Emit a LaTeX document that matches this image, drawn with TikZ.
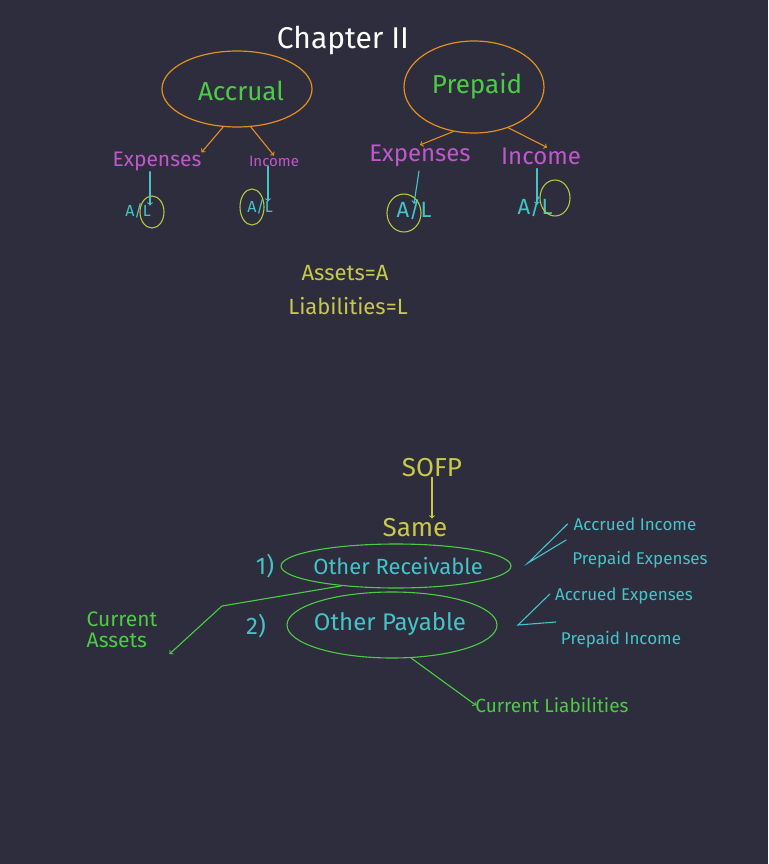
\documentclass[tikz,border=0pt]{standalone}
\usepackage{fontspec}
\setmainfont{Fira Sans}
\usetikzlibrary{shapes.geometric}
\definecolor{bg}{HTML}{2E2D3D}
\definecolor{org}{HTML}{E0901E}
\definecolor{grn}{HTML}{4CCC44}
\definecolor{mag}{HTML}{C058CC}
\definecolor{cyn}{HTML}{44C4C8}
\definecolor{ylw}{HTML}{C8C84A}
\definecolor{cir}{HTML}{B4C83C}
\tikzset{
  lbl/.style={inner sep=0pt,font=\fontsize{#1}{#1}\selectfont},
  arr/.style={->,line width=1.1pt,line cap=round},
  ring/.style={draw=cir,line width=1.1pt,ellipse,inner sep=0pt},
}
\begin{document}
\begin{tikzpicture}[x=1pt,y=-1pt]
\fill[bg] (0,0) rectangle (768,864);
\useasboundingbox (0,0) rectangle (768,864);
\node[lbl=30,white] (ch) at (343,40) {Chapter II};
% top ellipses
\node[draw=org,line width=1.2pt,ellipse,minimum width=150,minimum height=76] (acc) at (237,89) {};
\node[lbl=26,grn] at (241,91) {Accrual};
\node[draw=org,line width=1.2pt,ellipse,minimum width=140,minimum height=92] (pre) at (474,87) {};
\node[lbl=26,grn] at (477,86) {Prepaid};
\node[lbl=21,mag] (e1) at (157,162) {Expenses};
\node[lbl=15,mag] (i1) at (274,161) {Income};
\node[lbl=24,mag] (e2) at (420,156) {Expenses};
\node[lbl=24,mag] (i2) at (541,156) {Income};
\draw[arr,org] (acc.250) -- (e1.north east);
\draw[arr,org] (acc.290) -- (i1.north);
\draw[arr,org] (pre.245) -- (e2.north);
\draw[arr,org] (pre.310) -- ([xshift=6pt]i2.north);
% A/L
\node[lbl=16,cyn] (al1) at (138,211) {A/L};
\node[ring,minimum width=24,minimum height=32] at (152,212) {};
\node[lbl=16,cyn] (al2) at (260,207) {A/L};
\node[ring,minimum width=24,minimum height=36] at (252,207) {};
\node[lbl=22,cyn] (al3) at (414,210) {A/L};
\node[ring,minimum width=34,minimum height=38] at (404,213) {};
\node[lbl=22,cyn] (al4) at (535,207) {A/L};
\node[ring,minimum width=30,minimum height=36] at (555,198) {};
\draw[arr,cyn] ([xshift=-7pt]e1.south) -- ([xshift=12pt,yshift=-2pt]al1.north);
\draw[arr,cyn] ([xshift=-6pt]i1.south) -- ([xshift=8pt,yshift=-2pt]al2.north);
\draw[arr,cyn] ([xshift=-1pt,yshift=-4pt]e2.south) -- ([xshift=0pt,yshift=-4pt]al3.north);
\draw[arr,cyn] ([xshift=-4pt,yshift=-4pt]i2.south) -- ([xshift=2pt,yshift=-8pt]al4.north);
\node[lbl=22,ylw] (as) at (345,273) {Assets=A};
\node[lbl=22,ylw] (li) at (348,306) {Liabilities=L};
% SOFP
\node[lbl=26,ylw] (sofp) at (432,468) {SOFP};
\node[lbl=26,ylw] (same) at (415,528) {Same};
\draw[arr,ylw] (sofp.south) -- (same.north -| sofp.south);
\node[lbl=24,cyn] (n1) at (265,566) {1)};
\node[draw=grn,line width=1.1pt,ellipse,minimum width=230,minimum height=44] (rec) at (396,566) {};
\node[lbl=22,cyn] at (398,566) {Other Receivable};
\node[lbl=24,cyn] (n2) at (256,626) {2)};
\node[draw=grn,line width=1.1pt,ellipse,minimum width=210,minimum height=66] (pay) at (392,625) {};
\node[lbl=24,cyn] at (390,624) {Other Payable};
% brackets
\node[lbl=17,cyn] (ai) at (635,524) {Accrued Income};
\node[lbl=17,cyn] (pe) at (640,560) {Prepaid Expenses};
\draw[cyn,line width=1.1pt,line cap=round] ([xshift=-6pt]ai.west) -- (528,563) -- ([xshift=-6pt,yshift=20pt]pe.west);
\node[lbl=17,cyn] (ae) at (624,596) {Accrued Expenses};
\node[lbl=17,cyn] (pi) at (621,640) {Prepaid Income};
\draw[cyn,line width=1.1pt,line cap=round] ([xshift=-5pt,yshift=2pt]ae.west) -- (518,625) -- ([xshift=-5pt,yshift=18pt]pi.west);
% current
\node[lbl=21,grn,align=left] (ca) at (122,630) {Current\\Assets};
\draw[arr,grn] (rec.200) -- (222,606) -- ([xshift=12pt,yshift=-24pt]ca.east);
\node[lbl=19,grn] (cl) at (552,705) {Current Liabilities};
\draw[arr,grn] (pay.300) -- ([xshift=-76pt,yshift=-8pt]cl.north);
\end{tikzpicture}
\end{document}
